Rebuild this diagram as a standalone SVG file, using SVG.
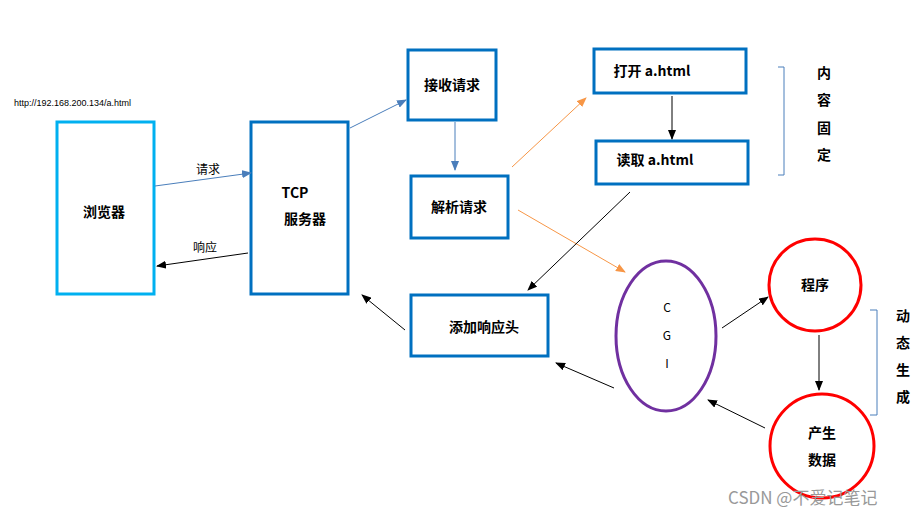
<svg xmlns="http://www.w3.org/2000/svg" width="916" height="517" viewBox="0 0 916 517">
<style>
.b{fill:#fff;stroke:#0070c0;stroke-width:3}
.c{fill:#fff;stroke:#ff0000;stroke-width:3}
.t{font-family:"Noto Sans CJK SC","Liberation Sans",sans-serif;font-size:14px;font-weight:bold;fill:#000;text-anchor:middle}
.s{font-family:"Noto Sans CJK SC","Liberation Sans",sans-serif;font-size:12px;fill:#000;text-anchor:middle}
.bl{stroke:#4a7ebb;stroke-width:1;fill:none;marker-end:url(#ab)}
.or{stroke:#f79646;stroke-width:1;fill:none;marker-end:url(#ao)}
.bk{stroke:#000;stroke-width:1;fill:none;marker-end:url(#ak)}
.br{stroke:#4a7ebb;stroke-width:1;fill:none}
</style>
<defs>
<marker id="ab" markerWidth="10" markerHeight="8" refX="9" refY="4" orient="auto" markerUnits="userSpaceOnUse"><path d="M0,0L10,4L0,8z" fill="#4a7ebb"/></marker>
<marker id="ao" markerWidth="10" markerHeight="8" refX="9" refY="4" orient="auto" markerUnits="userSpaceOnUse"><path d="M0,0L10,4L0,8z" fill="#f79646"/></marker>
<marker id="ak" markerWidth="10" markerHeight="8" refX="9" refY="4" orient="auto" markerUnits="userSpaceOnUse"><path d="M0,0L10,4L0,8z" fill="#000"/></marker>
</defs>
<rect width="916" height="517" fill="#fff"/>
<text x="14" y="106" font-family="Liberation Sans,sans-serif" font-size="9" fill="#000">http://192.168.200.134/a.html</text>
<g id="browser"><rect x="57" y="122" width="97" height="172" fill="#fff" stroke="#00b0f0" stroke-width="3"/><text class="t" x="104" y="217">浏览器</text></g>
<g id="tcp"><rect class="b" x="251" y="122" width="97" height="172"/><text class="t" x="295" y="198" font-size="16">TCP</text><text class="t" x="305" y="224">服务器</text></g>
<g id="recv"><rect class="b" x="408" y="50" width="88" height="70"/><text class="t" x="452" y="90">接收请求</text></g>
<g id="parse"><rect class="b" x="411" y="176" width="97" height="62"/><text class="t" x="459" y="212">解析请求</text></g>
<g id="open"><rect class="b" x="594" y="49" width="152" height="44"/><text class="t" x="652" y="76">打开 a.html</text></g>
<g id="read"><rect class="b" x="596" y="141" width="152" height="43"/><text class="t" x="655" y="165">读取 a.html</text></g>
<g id="header"><rect class="b" x="411" y="295" width="137" height="61"/><text class="t" x="484" y="332">添加响应头</text></g>
<g id="cgi"><ellipse cx="666" cy="336" rx="50" ry="75" fill="#fff" stroke="#7030a0" stroke-width="3"/><text class="s" x="667" y="312">C</text><text class="s" x="667" y="340">G</text><text class="s" x="667" y="368">I</text></g>
<g id="prog"><circle class="c" cx="815" cy="285" r="46"/><text class="t" x="815" y="290">程序</text></g>
<g id="data"><circle class="c" cx="822" cy="446" r="52"/><text class="t" x="822" y="438">产生</text><text class="t" x="822" y="465">数据</text></g>
<g id="fixed"><path class="br" d="M778,67H784V175H778"/><text class="t" x="824" y="78">内</text><text class="t" x="824" y="105">容</text><text class="t" x="824" y="133">固</text><text class="t" x="824" y="160">定</text></g>
<g id="dynamic"><path class="br" d="M870,310H877V415H870"/><text class="t" x="903" y="321">动</text><text class="t" x="903" y="348">态</text><text class="t" x="903" y="375">生</text><text class="t" x="903" y="402">成</text></g>
<g id="connectors">
<line class="bl" x1="155" y1="186" x2="251" y2="173"/><text class="s" x="208" y="174">请求</text>
<line class="bk" x1="248" y1="253" x2="157" y2="266"/><text class="s" x="205" y="252">响应</text>
<line class="bl" x1="350" y1="128" x2="406" y2="100"/>
<line class="bl" x1="455" y1="122" x2="455" y2="170"/>
<line class="or" x1="512" y1="167" x2="586" y2="98"/>
<line class="or" x1="518" y1="210" x2="625" y2="272"/>
<line class="bk" x1="672" y1="96" x2="672" y2="139"/>
<line class="bk" x1="630" y1="192" x2="528" y2="290"/>
<line class="bk" x1="405" y1="330" x2="362" y2="295"/>
<line class="bk" x1="614" y1="388" x2="556" y2="363"/>
<line class="bk" x1="722" y1="328" x2="768" y2="297"/>
<line class="bk" x1="819" y1="335" x2="819" y2="390"/>
<line class="bk" x1="765" y1="428" x2="708" y2="400"/>
</g>
<text x="728" y="504" font-family="Noto Sans CJK SC,sans-serif" font-size="17" fill="#999">CSDN @不爱记笔记</text>
</svg>
